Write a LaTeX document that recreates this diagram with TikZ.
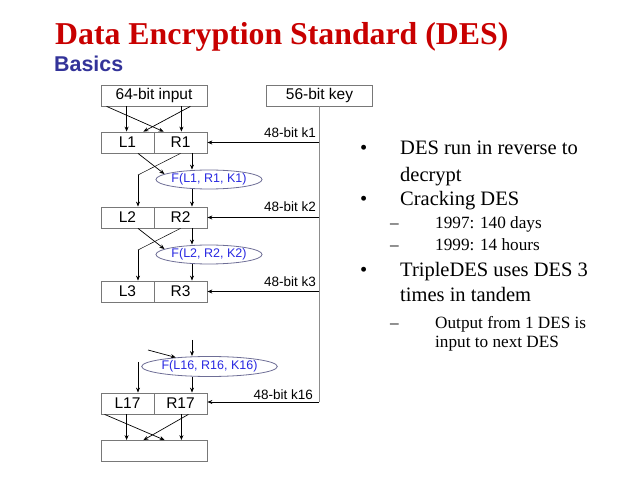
\documentclass[tikz,border=0pt]{standalone}
\usepackage{fontspec}
\setmainfont{Liberation Serif}
\newfontfamily\arialf{Liberation Sans}
\usetikzlibrary{arrows.meta,shapes.geometric,calc}
\definecolor{titlered}{RGB}{200,0,0}
\definecolor{subblue}{RGB}{51,51,153}
\definecolor{fblue}{RGB}{40,40,225}
\definecolor{ellgray}{RGB}{110,110,150}
\definecolor{boxgray}{RGB}{120,120,120}
\definecolor{keygray}{RGB}{140,140,140}
\tikzset{
  halfbox/.style={draw=boxgray,line width=0.8pt,minimum width=53pt,minimum height=21pt,inner sep=0pt,font=\arialf\fontsize{15.5}{16}\selectfont},
  fullbox/.style={draw=boxgray,line width=0.8pt,minimum width=106pt,minimum height=21pt,inner sep=0pt,font=\arialf\fontsize{15.5}{16}\selectfont},
  fnode/.style={ellipse,draw=ellgray,line width=0.8pt,minimum width=100pt,minimum height=19pt,inner sep=0pt,text=fblue,font=\arialf\fontsize{12.5}{13}\selectfont},
  arr/.style={-{Stealth[length=5pt,width=4pt]},line width=0.7pt,black},
  thinline/.style={line width=0.5pt,black},
  keyline/.style={line width=0.8pt,keygray},
  keylabel/.style={anchor=base east,inner sep=0pt,font=\arialf\fontsize{13.5}{14}\selectfont},
  bigtext/.style={anchor=base west,inner sep=0pt,font=\fontsize{20.5}{22}\selectfont},
  smalltext/.style={anchor=base west,inner sep=0pt,font=\fontsize{17.2}{19}\selectfont},
}
\begin{document}
\begin{tikzpicture}[x=1pt,y=-1pt]
\useasboundingbox (0,0) rectangle (638,478);
% titles
\node[anchor=base west,inner sep=0pt,text=titlered,font=\bfseries\fontsize{31.8}{34}\selectfont] (title) at (55,45) {Data Encryption Standard (DES)};
\node[anchor=base west,inner sep=0pt,text=subblue,font=\arialf\bfseries\fontsize{21.4}{24}\selectfont] (basics) at (54,72) {Basics};

% columns
\coordinate (cL) at (138,0);
\coordinate (cR) at (192,0);

% boxes
\node[fullbox] (input) at (154,95.5) {64-bit input};
\node[fullbox] (key) at (319.5,95.5) {56-bit key};
\node[halfbox] (L1) at (127.5,142.5) {L1};
\node[halfbox] (R1) at (180.5,142.5) {R1};
\node[halfbox] (L2) at (127.5,217.5) {L2};
\node[halfbox] (R2) at (180.5,217.5) {R2};
\node[halfbox] (L3) at (127.5,291.5) {L3};
\node[halfbox] (R3) at (180.5,291.5) {R3};
\node[halfbox] (L17) at (127.5,403.5) {L17};
\node[halfbox] (R17) at (180.5,403.5) {R17};
\node[fullbox] (out) at (154,451) {};

\node[fnode] (F1) at (209,179.5) {F(L1, R1, K1)};
\node[fnode] (F2) at (209,254.5) {F(L2, R2, K2)};
\node[fnode,minimum width=103pt,minimum height=20pt] (F16) at (209.5,366.5) {F(L16, R16, K16)};

% key line
\coordinate (kend) at (319,402);
\draw[keyline] (key.south -| kend) -- (kend);
\draw[arr] (kend |- R1.east) -- (R1.east);
\draw[arr] (kend |- R2.east) -- (R2.east);
\draw[arr] (kend |- R3.east) -- (R3.east);
\draw[arr] (kend) -- (kend -| R17.east);
\node[keylabel] (k1) at (316,137.5) {48-bit k1};
\node[keylabel] (k2) at (316,212) {48-bit k2};
\node[keylabel] (k3) at (316,287) {48-bit k3};
\node[keylabel] (k16) at (313,399.5) {48-bit k16};

% input to L1/R1
\draw[arr] ([xshift=26pt]input.south west) -- ([xshift=26pt]L1.north west);
\draw[arr] ([xshift=-26pt]input.south east) -- ([xshift=-26pt]R1.north east);
\draw[arr] ([xshift=6pt]input.south west) -- ([xshift=10pt]R1.north west);
\draw[arr] ([xshift=-17pt]input.south east) -- ([xshift=-11pt]L1.north east);

% round 1
\draw[arr] (cL |- L1.south) -- (F1.173);
\draw[arr] (cR |- R1.south) -- (cR |- F1.north);
\draw[thinline] (R1.south) -- ([yshift=4.5pt]cL |- F1.west);
\draw[arr] ([yshift=4.5pt]cL |- F1.west) -- (cL |- L2.north);
\draw[arr] (cR |- F1.south) -- (cR |- R2.north);

% round 2
\draw[arr] (cL |- L2.south) -- (F2.173);
\draw[arr] (cR |- R2.south) -- (cR |- F2.north);
\draw[thinline] (R2.south) -- ([yshift=4.5pt]cL |- F2.west);
\draw[arr] ([yshift=4.5pt]cL |- F2.west) -- (cL |- L3.north);
\draw[arr] (cR |- F2.south) -- (cR |- R3.north);

% round 16
\coordinate (t16) at (192,340);
\coordinate (d16) at (148,350);
\coordinate (l16) at (138,362);
\draw[arr] (t16) -- (t16 |- F16.north);
\draw[arr] (d16) -- (F16.165);
\draw[arr] (l16) -- (l16 |- L17.north);
\draw[arr] (cR |- F16.south) -- (cR |- R17.north);

% L17/R17 to output
\draw[arr] ([xshift=26pt]L17.south west) -- ([xshift=26pt]out.north west);
\draw[arr] ([xshift=-26pt]R17.south east) -- ([xshift=-26pt]out.north east);
\draw[arr] ([xshift=4pt]L17.south west) -- ([xshift=64pt]out.north west);
\draw[arr] ([xshift=-19pt]R17.south east) -- ([xshift=-64pt]out.north east);

% bullets
\node[bigtext] (b1) at (360,155) {•};
\node[bigtext] (t1a) at (400,155) {DES run in reverse to};
\node[bigtext] (t1b) at (400,181.5) {decrypt};
\node[bigtext] (b2) at (360,206) {•};
\node[bigtext] (t2) at (400,206) {Cracking DES};
\node[smalltext] (d1) at (390,229) {–};
\node[smalltext] (s1) at (435,229) {1997: 140 days};
\node[smalltext] (d2) at (390,250.5) {–};
\node[smalltext] (s2) at (435,250.5) {1999: 14 hours};
\node[bigtext] (b3) at (360,276.5) {•};
\node[bigtext] (t3a) at (400,276.5) {TripleDES uses DES 3};
\node[bigtext] (t3b) at (400,301.5) {times in tandem};
\node[smalltext] (d3) at (390,329) {–};
\node[smalltext] (s3a) at (435,329) {Output from 1 DES is};
\node[smalltext] (s3b) at (435,347.5) {input to next DES};
\end{tikzpicture}
\end{document}
